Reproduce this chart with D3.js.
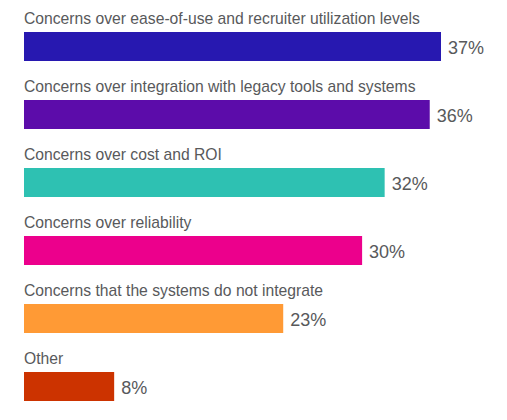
<!DOCTYPE html>
<html><head><meta charset="utf-8">
<script src="https://cdn.jsdelivr.net/npm/d3@7"></script>
<style>html,body{margin:0;padding:0;background:#fff;}</style>
</head><body>
<svg id="c" width="507" height="420"></svg>
<script>
const categories = [
  "Concerns over ease-of-use and recruiter utilization levels",
  "Concerns over integration with legacy tools and systems",
  "Concerns over cost and ROI",
  "Concerns over reliability",
  "Concerns that the systems do not integrate",
  "Other"
];
const values = [37, 36, 32, 30, 23, 8];
const valueLabels = ["37%", "36%", "32%", "30%", "23%", "8%"];
const colors = ["#2718b0", "#5c0caa", "#2ec1b2", "#ec008c", "#ff9a35", "#cc3300"];

const svg = d3.select("#c");
const x = d3.scaleLinear().domain([0, 37]).range([24, 441]);
// rows: 68px step; bar occupies 29px of each step
const y = d3.scalePoint().domain(categories).range([32, 32 + 68 * (categories.length - 1)]);

const rows = svg.append("g").selectAll("g.row").data(categories).enter().append("g").attr("class","row");

rows.append("rect")
  .attr("x", x(0))
  .attr("y", d => y(d))
  .attr("width", (d,i) => x(values[i]) - x(0))
  .attr("height", 29)
  .attr("fill", (d,i) => colors[i]);

rows.append("text")
  .attr("x", x(0))
  .attr("y", d => y(d) - 8.5)
  .attr("font-family", "Liberation Sans, Arial, sans-serif")
  .attr("font-size", 15.7)
  .attr("fill", "#58595b")
  .text(d => d);

rows.append("text")
  .attr("x", (d,i) => x(values[i]) + 7)
  .attr("y", d => y(d) + 21.5)
  .attr("font-family", "Liberation Sans, Arial, sans-serif")
  .attr("font-size", 18)
  .attr("fill", "#58595b")
  .text((d,i) => valueLabels[i]);
</script>
</body></html>
